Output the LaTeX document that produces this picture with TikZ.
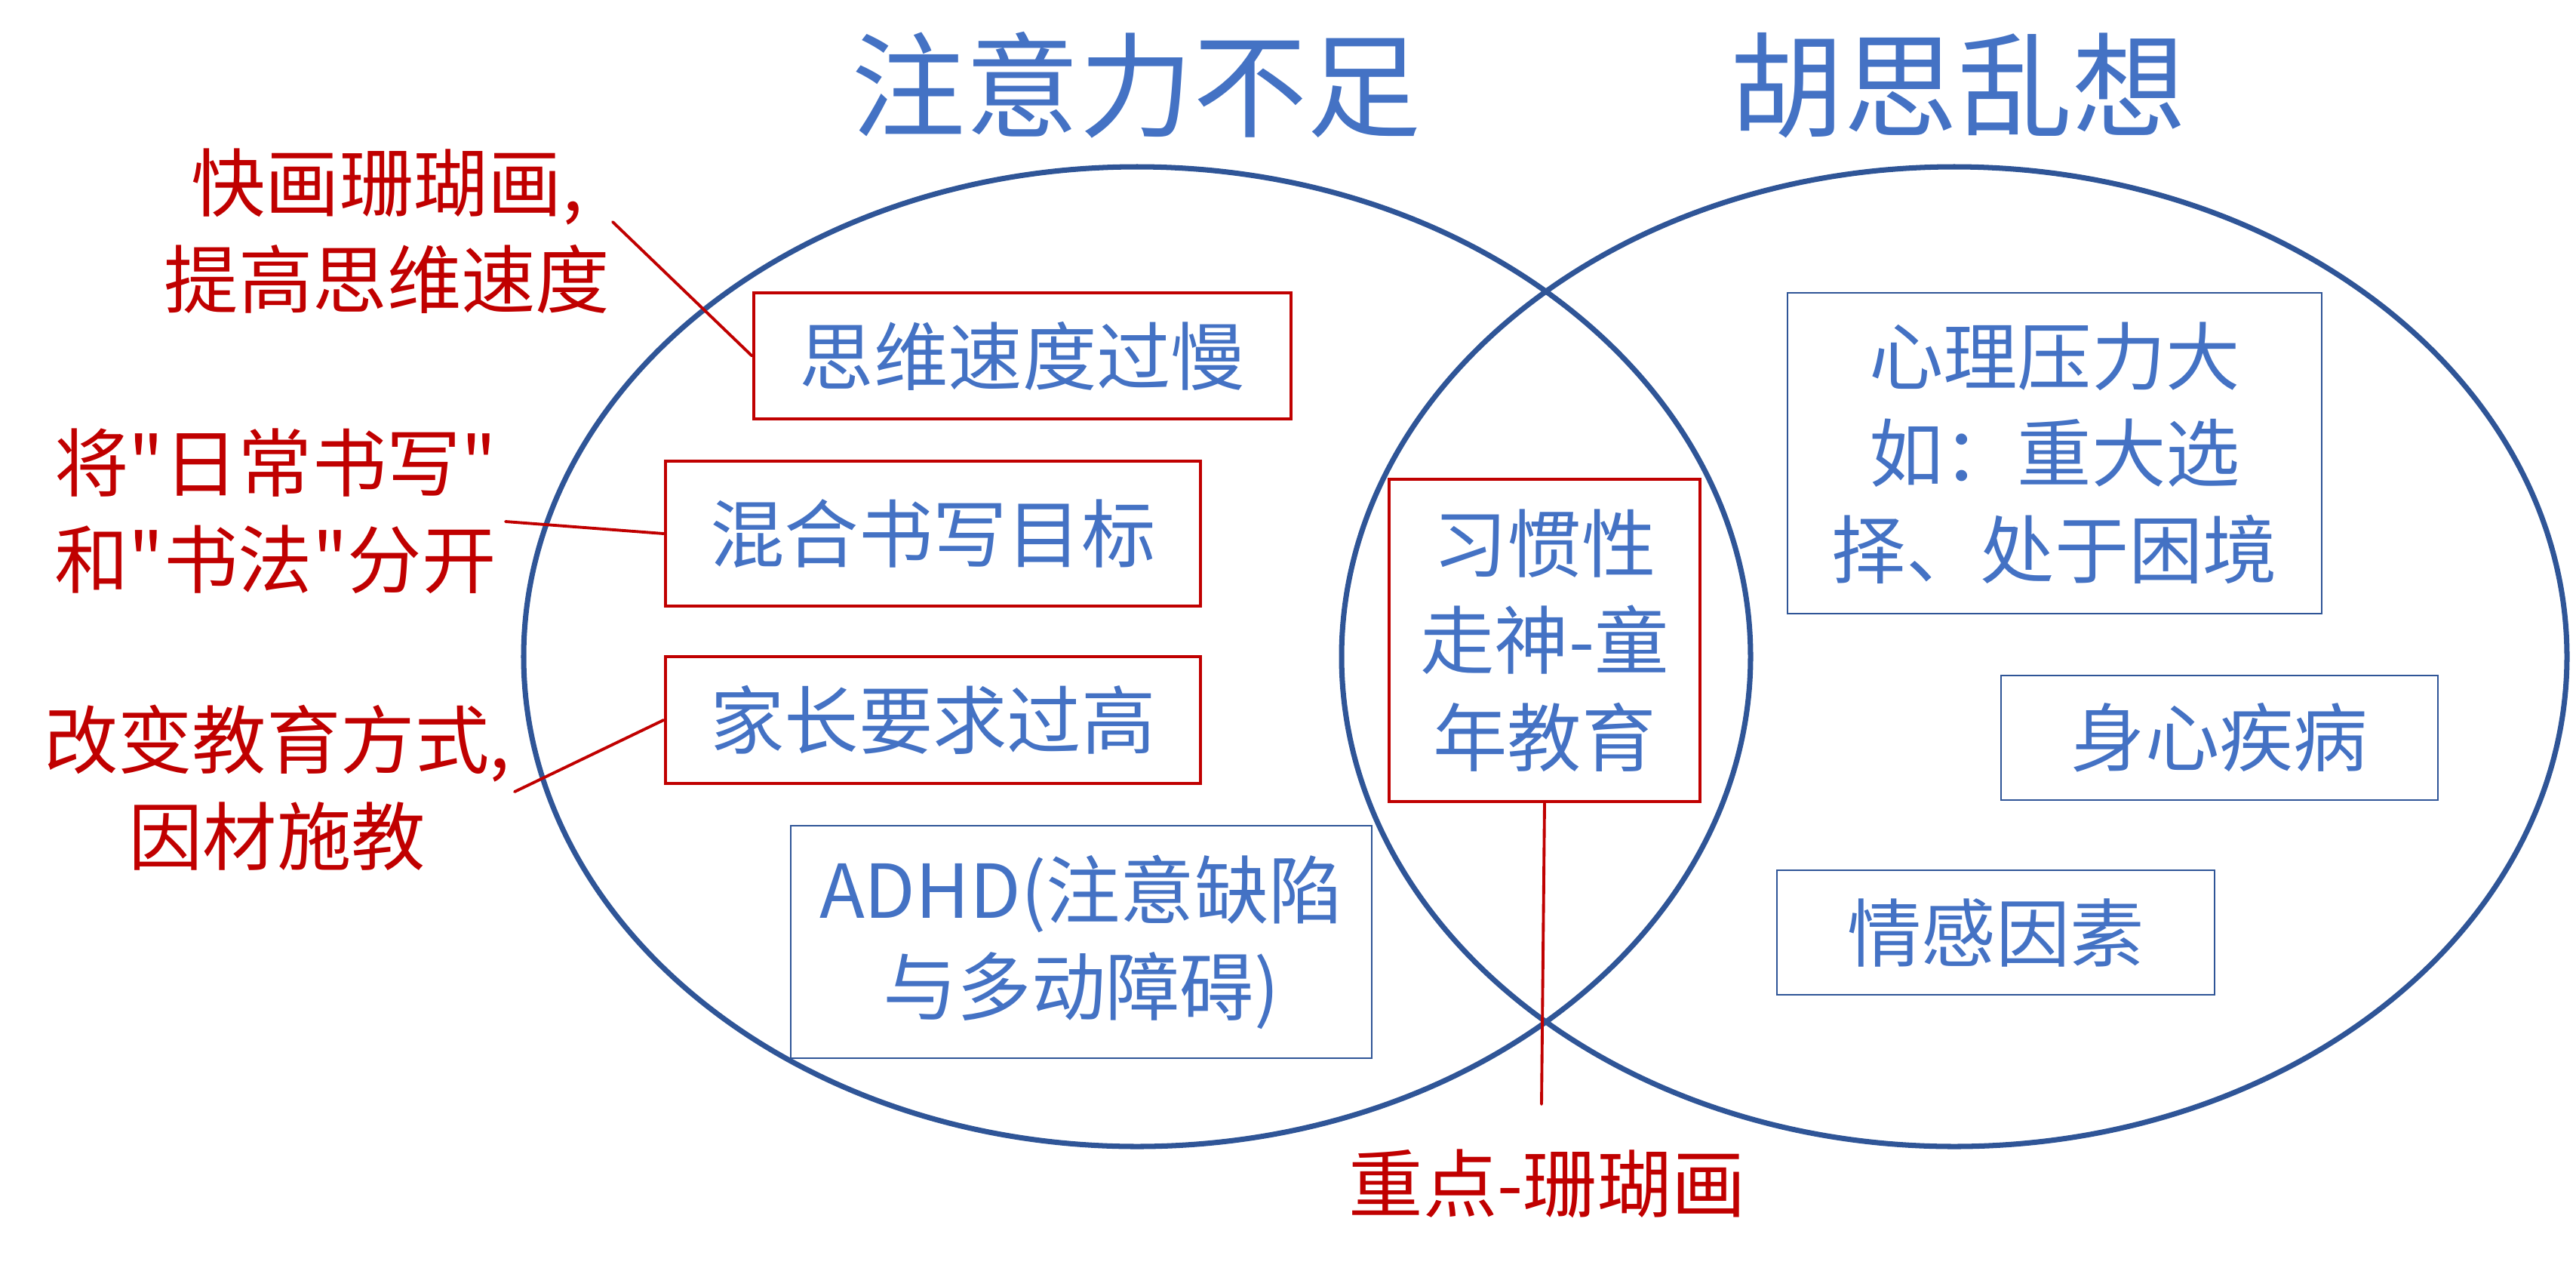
\documentclass[tikz,border=0pt]{standalone}
\usepackage{fontspec}
\setmainfont{Noto Sans CJK SC}[Ligatures=TeXOff]
\definecolor{vennblue}{HTML}{2F5597}
\definecolor{textblue}{HTML}{4472C4}
\definecolor{notered}{HTML}{C00000}

\begin{document}
\begin{tikzpicture}[
    every node/.style={font=\fontsize{28}{36.5}\selectfont, align=center},
    title/.style={text=textblue, font=\fontsize{43}{50}\selectfont},
    redbox/.style={draw=notered, line width=1.4pt, text=textblue, inner sep=0pt},
    bluebox/.style={draw=vennblue, line width=0.8pt, text=textblue, inner sep=0pt},
    note/.style={text=notered},
    link/.style={notered, line width=1.1pt, line cap=round}
  ]
        \useasboundingbox (0,0) rectangle (34.14,-16.79);

        % Two sets
        \draw[vennblue, line width=2pt] (15.07,-8.70) ellipse [x radius=8.13, y radius=6.49];
        \draw[vennblue, line width=2pt] (25.90,-8.70) ellipse [x radius=8.12, y radius=6.49];
        \node[title] (tleft)  at (15.06,-1.13) {注意力不足};
        \node[title] (tright) at (25.95,-1.13) {胡思乱想};

        % Causes of poor attention
        \node[redbox, minimum width=7.12cm, minimum height=1.67cm] (slow)   at (13.55,-4.715) {思维速度过慢};
        \node[redbox, minimum width=7.09cm, minimum height=1.92cm] (mix)    at (12.365,-7.07) {混合书写目标};
        \node[redbox, minimum width=7.09cm, minimum height=1.68cm] (parent) at (12.365,-9.54) {家长要求过高};
        \node[bluebox, minimum width=7.70cm, minimum height=3.08cm] (adhd)  at (14.33,-12.48) {ADHD(注意缺陷\\与多动障碍)};

        % Overlap
        \node[redbox, minimum width=4.12cm, minimum height=4.27cm] (habit) at (20.47,-8.485) {习惯性\\走神-童\\年教育};

        % Causes of wandering thoughts
        \node[bluebox, minimum width=7.08cm, minimum height=4.25cm] (stress)  at (27.23,-6.005) {心理压力大\\如：重大选\\择、处于困境};
        \node[bluebox, minimum width=5.79cm, minimum height=1.65cm] (illness) at (29.415,-9.775) {身心疾病};
        \node[bluebox, minimum width=5.80cm, minimum height=1.65cm] (emotion) at (26.45,-12.355) {情感因素};

        % Remedies
        \node[note] (nslow)   at (5.13,-3.06)  {快画珊瑚画,\\提高思维速度};
        \node[note] (nmix)    at (3.65,-6.77)  {将"日常书写"\\和"书法"分开};
        \node[note] (nparent) at (3.67,-10.44) {改变教育方式,\\因材施教};
        \node[note] (nhabit)  at (20.51,-15.68) {重点-珊瑚画};

        \coordinate (cslow)   at (8.12,-2.94);
        \coordinate (cmix)    at (6.70,-6.91);
        \coordinate (cparent) at (6.82,-10.49);
        \coordinate (chabit)  at (20.43,-14.63);

        \draw[link] (cslow) -- (slow.west);
        \draw[link] (cmix) -- (mix.west);
        \draw[link] (cparent) -- (parent.west);
        \draw[link] (habit.south) -- (chabit);
\end{tikzpicture}
\end{document}
